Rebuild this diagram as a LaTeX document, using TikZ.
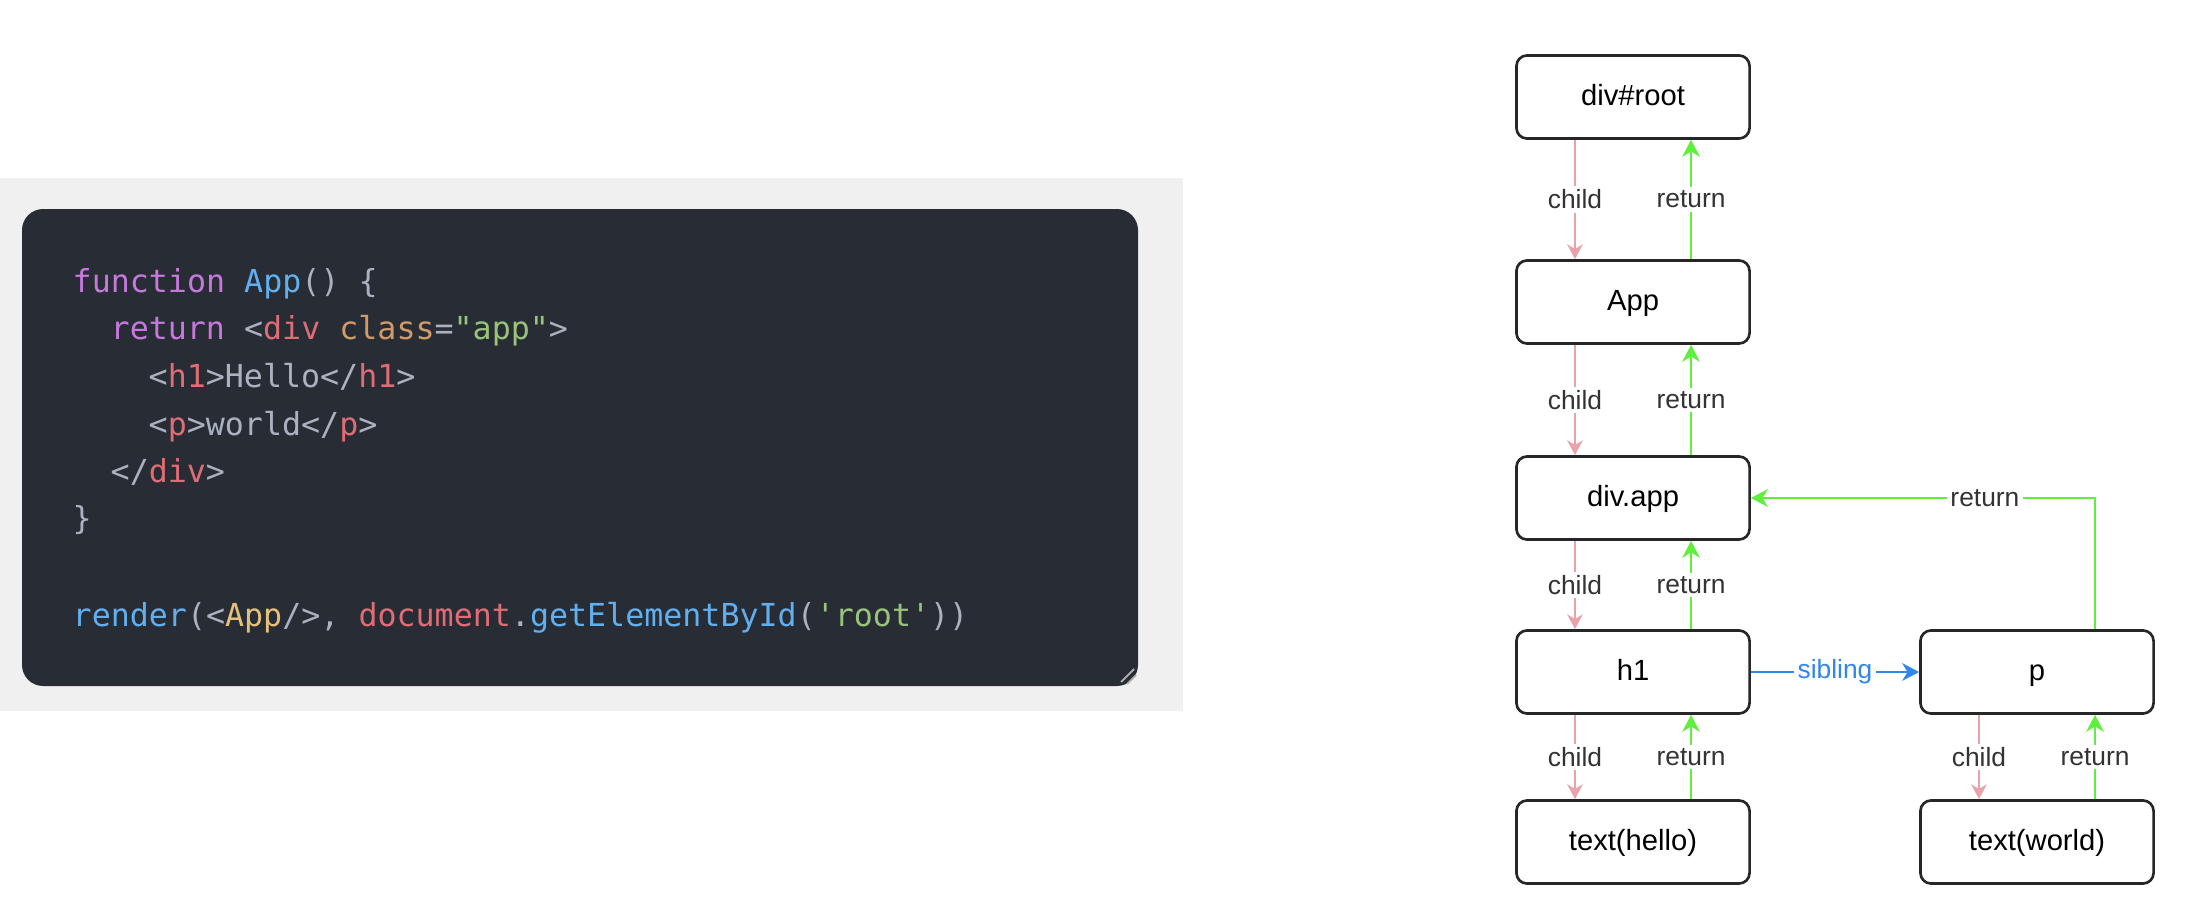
\documentclass[tikz,border=0pt]{standalone}
\usepackage{fontspec}
\setsansfont{Liberation Sans}
\setmonofont{DejaVu Sans Mono}
\usetikzlibrary{arrows.meta}
\definecolor{panelgray}{HTML}{F0F0F0}
\definecolor{codebg}{HTML}{282C34}
\definecolor{cgray}{HTML}{ABB2BF}
\definecolor{cpurple}{HTML}{C678DD}
\definecolor{cblue}{HTML}{61AFEF}
\definecolor{cred}{HTML}{E06C75}
\definecolor{corange}{HTML}{D19A66}
\definecolor{cgreen}{HTML}{98C379}
\definecolor{cyellow}{HTML}{E5C07B}
\definecolor{childpink}{HTML}{EAA2AA}
\definecolor{retgreen}{HTML}{5EF03C}
\definecolor{sibblue}{HTML}{2F86EB}
\tikzset{
  fiber/.style={draw=black!85, line width=0.75pt, rounded corners=3pt,
    minimum width=2.33cm, minimum height=0.83cm, inner sep=0pt,
    text height=1.6ex, text depth=0.45ex,
    font=\sffamily\fontsize{8.3}{10}\selectfont},
  childarr/.style={draw=childpink, line width=0.6pt,
    -{Stealth[length=4.2pt,width=4.4pt,inset=1.3pt]}},
  retarr/.style={draw=retgreen, line width=0.7pt,
    -{Stealth[length=4.8pt,width=5pt,inset=1.5pt]}},
  sibarr/.style={draw=sibblue, line width=0.7pt,
    -{Stealth[length=4.8pt,width=5pt,inset=1.5pt]}},
  lbl/.style={fill=white, inner sep=1pt, text=black!80,
    font=\sffamily\fontsize{7.5}{9}\selectfont},
  codeln/.style={anchor=base west, inner sep=0pt, text=cgray,
    font=\ttfamily\fontsize{9}{11}\selectfont}
}
\begin{document}
\begin{tikzpicture}[x=0.01cm, y=-0.01cm]
  \useasboundingbox (0,0) rectangle (2200,906);
  % Code panel
  \fill[panelgray] (0,178) rectangle (1183,711);
  \fill[codebg, rounded corners=6pt] (22,209) rectangle (1138,686);
  \draw[gray!60, line width=0.5pt] (1121,682) -- (1134,669);
  \draw[gray!60, line width=0.5pt] (1127,684) -- (1136,675);
  % Code lines
  \node[codeln] (l1) at (72,292)
    {\textcolor{cpurple}{function} \textcolor{cblue}{App}() \{};
  \node[codeln] (l2) at (110,339)
    {\textcolor{cpurple}{return} <\textcolor{cred}{div} \textcolor{corange}{class}=\textcolor{cgreen}{"app"}>};
  \node[codeln] (l3) at (148,387)
    {<\textcolor{cred}{h1}>Hello</\textcolor{cred}{h1}>};
  \node[codeln] (l4) at (148,435)
    {<\textcolor{cred}{p}>world</\textcolor{cred}{p}>};
  \node[codeln] (l5) at (110,482) {</\textcolor{cred}{div}>};
  \node[codeln] (l6) at (72,529) {\}};
  \node[codeln] (l7) at (72,626)
    {\textcolor{cblue}{render}(<\textcolor{cyellow}{App}/>, \textcolor{cred}{document}.\textcolor{cblue}{getElementById}(\textcolor{cgreen}{'root'}))};
  % Fiber tree
  \node[fiber] (root) at (1633,97) {div\#root};
  \node[fiber] (app) at (1633,302) {App};
  \node[fiber] (divapp) at (1633,498) {div.app};
  \node[fiber] (hone) at (1633,672) {h1};
  \node[fiber] (p) at (2037,672) {p};
  \node[fiber] (thello) at (1633,842) {text(hello)};
  \node[fiber] (tworld) at (2037,842) {text(world)};
  % child / return pairs
  \draw[childarr] ([xshift=-0.58cm]root.south) -- ([xshift=-0.58cm]app.north)
    node[midway, lbl] {child};
  \draw[retarr] ([xshift=0.58cm]app.north) -- ([xshift=0.58cm]root.south)
    node[midway, lbl] {return};
  \draw[childarr] ([xshift=-0.58cm]app.south) -- ([xshift=-0.58cm]divapp.north)
    node[midway, lbl] {child};
  \draw[retarr] ([xshift=0.58cm]divapp.north) -- ([xshift=0.58cm]app.south)
    node[midway, lbl] {return};
  \draw[childarr] ([xshift=-0.58cm]divapp.south) -- ([xshift=-0.58cm]hone.north)
    node[midway, lbl] {child};
  \draw[retarr] ([xshift=0.58cm]hone.north) -- ([xshift=0.58cm]divapp.south)
    node[midway, lbl] {return};
  \draw[childarr] ([xshift=-0.58cm]hone.south) -- ([xshift=-0.58cm]thello.north)
    node[midway, lbl] {child};
  \draw[retarr] ([xshift=0.58cm]thello.north) -- ([xshift=0.58cm]hone.south)
    node[midway, lbl] {return};
  \draw[childarr] ([xshift=-0.58cm]p.south) -- ([xshift=-0.58cm]tworld.north)
    node[midway, lbl] {child};
  \draw[retarr] ([xshift=0.58cm]tworld.north) -- ([xshift=0.58cm]p.south)
    node[midway, lbl] {return};
  % sibling and return of p
  \draw[sibarr] (hone) -- (p)
    node[midway, lbl, text=sibblue] {sibling};
  \draw[retarr] ([xshift=0.58cm]p.north) |- (divapp.east)
    node[pos=0.66, lbl] {return};
\end{tikzpicture}
\end{document}
